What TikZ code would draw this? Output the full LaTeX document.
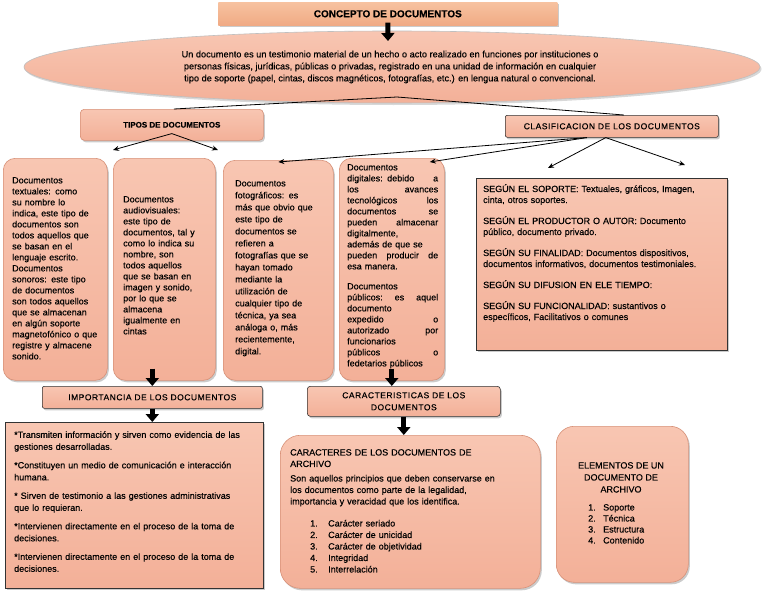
\documentclass[tikz,border=0pt]{standalone}
\usepackage{fontspec}
\setmainfont{Liberation Sans}[FakeBold=0.3]
\usetikzlibrary{shapes.geometric,arrows.meta,shadows,calc}

\definecolor{salmtop}{RGB}{248,198,178}
\definecolor{salmbot}{RGB}{243,176,152}
\definecolor{salmedge}{RGB}{215,145,120}
\definecolor{ttop}{RGB}{247,194,160}
\definecolor{tbot}{RGB}{240,170,132}

\begin{document}
\begin{tikzpicture}[x=1pt,y=-1pt,
  box/.style={draw=salmedge, line width=0.6pt, top color=salmtop, bottom color=salmbot,
    drop shadow={shadow xshift=1.5pt,shadow yshift=-2pt,fill=black!40},
    inner sep=0pt, anchor=north west},
  rbox/.style={box, rounded corners=12pt},
  sqbox/.style={box, draw=black!80},
  txt/.style={anchor=north west, inner sep=0pt, align=left, font=\fontsize{9}{11}\selectfont},
  blk/.style={line width=5pt, -{Triangle[width=13pt,length=8pt]}},
  thinarr/.style={line width=0.8pt, -{Stealth[length=6pt,width=5pt]}},
  thinline/.style={line width=0.8pt},
  hdr/.style={font=\fontsize{8.5}{12}\selectfont\addfontfeatures{LetterSpace=6}, align=center}
]
\useasboundingbox[fill=white] (0,0) rectangle (768,594);

% title
\node[box, draw=none, top color=ttop, bottom color=tbot, minimum width=339pt, minimum height=23pt,
  font=\fontsize{10}{12}\selectfont\bfseries] (title) at (218,2) {CONCEPTO DE DOCUMENTOS};

% ellipse
\node[ellipse, draw=black!25, line width=0.6pt, top color=salmtop, bottom color=salmbot,
  drop shadow={shadow xshift=1.5pt,shadow yshift=-2pt,fill=black!30},
  minimum width=736pt, minimum height=72pt, inner sep=0pt] (ell) at (392,67) {};
\node[align=center, inner sep=0pt, font=\fontsize{9.2}{12}\selectfont] (elltxt) at (390,67)
 {Un documento es un testimonio material de un hecho o acto realizado en funciones por instituciones o\\
  personas físicas, jurídicas, públicas o privadas, registrado en una unidad de información en cualquier\\
  tipo de soporte (papel, cintas, discos magnéticos, fotografías, etc.) en lengua natural o convencional.};

\coordinate (a0) at (388,41);
\draw[blk] ([yshift=3pt]title.south) -- (a0);

% second level
\node[box, rounded corners=4pt, minimum width=183pt, minimum height=31pt,
  font=\fontsize{8}{10}\selectfont\bfseries] (tipos) at (80,109) {TIPOS DE DOCUMENTOS};
\node[sqbox, rounded corners=2pt, minimum width=213pt, minimum height=22pt, hdr] (clas) at (505,115)
  {CLASIFICACION DE LOS DOCUMENTOS};

\coordinate (apex) at (397,97);
\draw[thinline] (apex) -- ([xshift=2pt]tipos.north);
\draw[thinline] (apex) -- ([xshift=12pt]clas.north);

% row of boxes
\node[rbox, minimum width=104pt, minimum height=222pt] (b1) at (3,158) {};
\node[rbox, minimum width=102pt, minimum height=222pt] (b2) at (113,158) {};
\node[rbox, minimum width=110pt, minimum height=220pt] (b3) at (223,160) {};
\node[rbox, minimum width=105pt, minimum height=222pt] (b4) at (339,158) {};
\node[sqbox, minimum width=251pt, minimum height=172pt] (seg) at (476,178) {};

\node[txt, text width=93pt] (t1) at (12,177) {Documentos\\ textuales: como\\ su nombre lo\\ indica, este tipo de\\ documentos son\\ todos aquellos que\\ se basan en el\\ lenguaje escrito.\\ Documentos\\ sonoros: este tipo\\ de documentos\\ son todos aquellos\\ que se almacenan\\ en algún soporte\\ magnetofónico o que\\ registre y almacene\\ sonido.};

\node[txt, text width=90pt] (t2) at (123,196) {Documentos\\ audiovisuales:\\ este tipo de\\ documentos, tal y\\ como lo indica su\\ nombre, son\\ todos aquellos\\ que se basan en\\ imagen y sonido,\\ por lo que se\\ almacena\\ igualmente en\\ cintas};

\node[txt, text width=96pt, font=\fontsize{9}{12}\selectfont] (t3) at (235,180) {Documentos\\ fotográficos: es\\ más que obvio que\\ este tipo de\\ documentos se\\ refieren a\\ fotografías que se\\ hayan tomado\\ mediante la\\ utilización de\\ cualquier tipo de\\ técnica, ya sea\\ análoga o, más\\ recientemente,\\ digital.};

\node[txt, text width=91pt] (t4) at (347,164) {Documentos\\ digitales: debido\hfill a\\ los\hfill avances\\ tecnológicos\hfill los\\ documentos\hfill se\\ pueden\hfill almacenar\\ digitalmente,\\ además de que se\\ pueden\hfill producir\hfill de\\ esa manera.\\[9pt] Documentos\\ públicos:\hfill es\hfill aquel\\ documento\\ expedido\hfill o\\ autorizado\hfill por\\ funcionarios\\ públicos\hfill o\\ fedetarios públicos};

\node[txt, text width=242pt] (t6) at (483,184) {SEGÚN EL SOPORTE: Textuales, gráficos, Imagen,\\ cinta, otros soportes.\\[10pt] SEGÚN EL PRODUCTOR O AUTOR: Documento\\ público, documento privado.\\[10pt] SEGÚN SU FINALIDAD: Documentos dispositivos,\\ documentos informativos, documentos testimoniales.\\[10pt] SEGÚN SU DIFUSION EN ELE TIEMPO:\\[10pt] SEGÚN SU FUNCIONALIDAD: sustantivos o\\ específicos, Facilitativos o comunes};

% arrows from TIPOS and CLASIFICACION
\coordinate (ta1) at (113,150);
\coordinate (ta2) at (218,150);
\draw[thinarr] ([yshift=7pt]tipos.south) -- (ta1);
\draw[thinarr] ([yshift=7pt]tipos.south) -- (ta2);
\coordinate (ca1) at (548,168);
\coordinate (ca2) at (685,165);
\draw[thinarr] ([xshift=-6pt]clas.south) -- (ca1);
\draw[thinarr] ([xshift=-6pt]clas.south) -- (ca2);
\draw[thinarr] ([xshift=-25pt]clas.south) -- ([xshift=38pt,yshift=-4pt]b4.north);
\draw[thinarr] ([xshift=-25pt]clas.south) -- ([yshift=-2pt]b3.north);

% third level
\node[sqbox, rounded corners=2pt, minimum width=220pt, minimum height=22pt, hdr] (imp) at (42,386)
  {IMPORTANCIA DE LOS DOCUMENTOS};
\node[sqbox, rounded corners=3pt, minimum width=193pt, minimum height=30pt, hdr] (car) at (307,386)
  {CARACTERISTICAS DE LOS\\ DOCUMENTOS};

\draw[blk] ([xshift=-12pt,yshift=12pt]b2.south) -- (imp.north);
\draw[blk] ([yshift=12pt]b4.south) -- (b4.south |- car.north);

% bottom boxes
\node[sqbox, minimum width=258pt, minimum height=166pt] (implist) at (5,422) {};
\node[box, rounded corners=20pt, minimum width=260pt, minimum height=153pt] (cr) at (280,435) {};
\node[box, rounded corners=18pt, minimum width=132pt, minimum height=156pt] (el) at (556,426) {};

\draw[blk] (imp.south) -- (imp.south |- implist.north);
\draw[blk] (car.south) -- (car.south |- cr.north);

\node[txt, text width=248pt, font=\fontsize{9}{12}\selectfont] (t5) at (14,431) {*Transmiten información y sirven como evidencia de las\\ gestiones desarrolladas.\\[6.5pt] *Constituyen un medio de comunicación e interacción\\ humana.\\[6.5pt] * Sirven de testimonio a las gestiones administrativas\\ que lo requieran.\\[6.5pt] *Intervienen directamente en el proceso de la toma de\\ decisiones.\\[6.5pt] *Intervienen directamente en el proceso de la toma de\\ decisiones.};

\node[txt, text width=245pt, font=\fontsize{9}{11.5}\selectfont] (t7) at (290,449) {CARACTERES DE LOS DOCUMENTOS DE\\ ARCHIVO\\[3pt] Son aquellos principios que deben conservarse en\\ los documentos como parte de la legalidad,\\ importancia y veracidad que los identifica.\\[10.5pt]
\hspace*{20pt}\makebox[18pt][l]{1.}Carácter seriado\\
\hspace*{20pt}\makebox[18pt][l]{2.}Carácter de unicidad\\
\hspace*{20pt}\makebox[18pt][l]{3.}Carácter de objetividad\\
\hspace*{20pt}\makebox[18pt][l]{4.}Integridad\\
\hspace*{20pt}\makebox[18pt][l]{5.}Interrelación};

\node[anchor=north, inner sep=0pt, align=center, font=\fontsize{9}{12}\selectfont] (elh) at (621,462)
  {ELEMENTOS DE UN\\ DOCUMENTO DE\\ ARCHIVO};
\node[txt, font=\fontsize{9}{11}\selectfont] (elist) at (588,504)
  {\makebox[15pt][l]{1.}Soporte\\ \makebox[15pt][l]{2.}Técnica\\ \makebox[15pt][l]{3.}Estructura\\ \makebox[15pt][l]{4.}Contenido};
\end{tikzpicture}
\end{document}
